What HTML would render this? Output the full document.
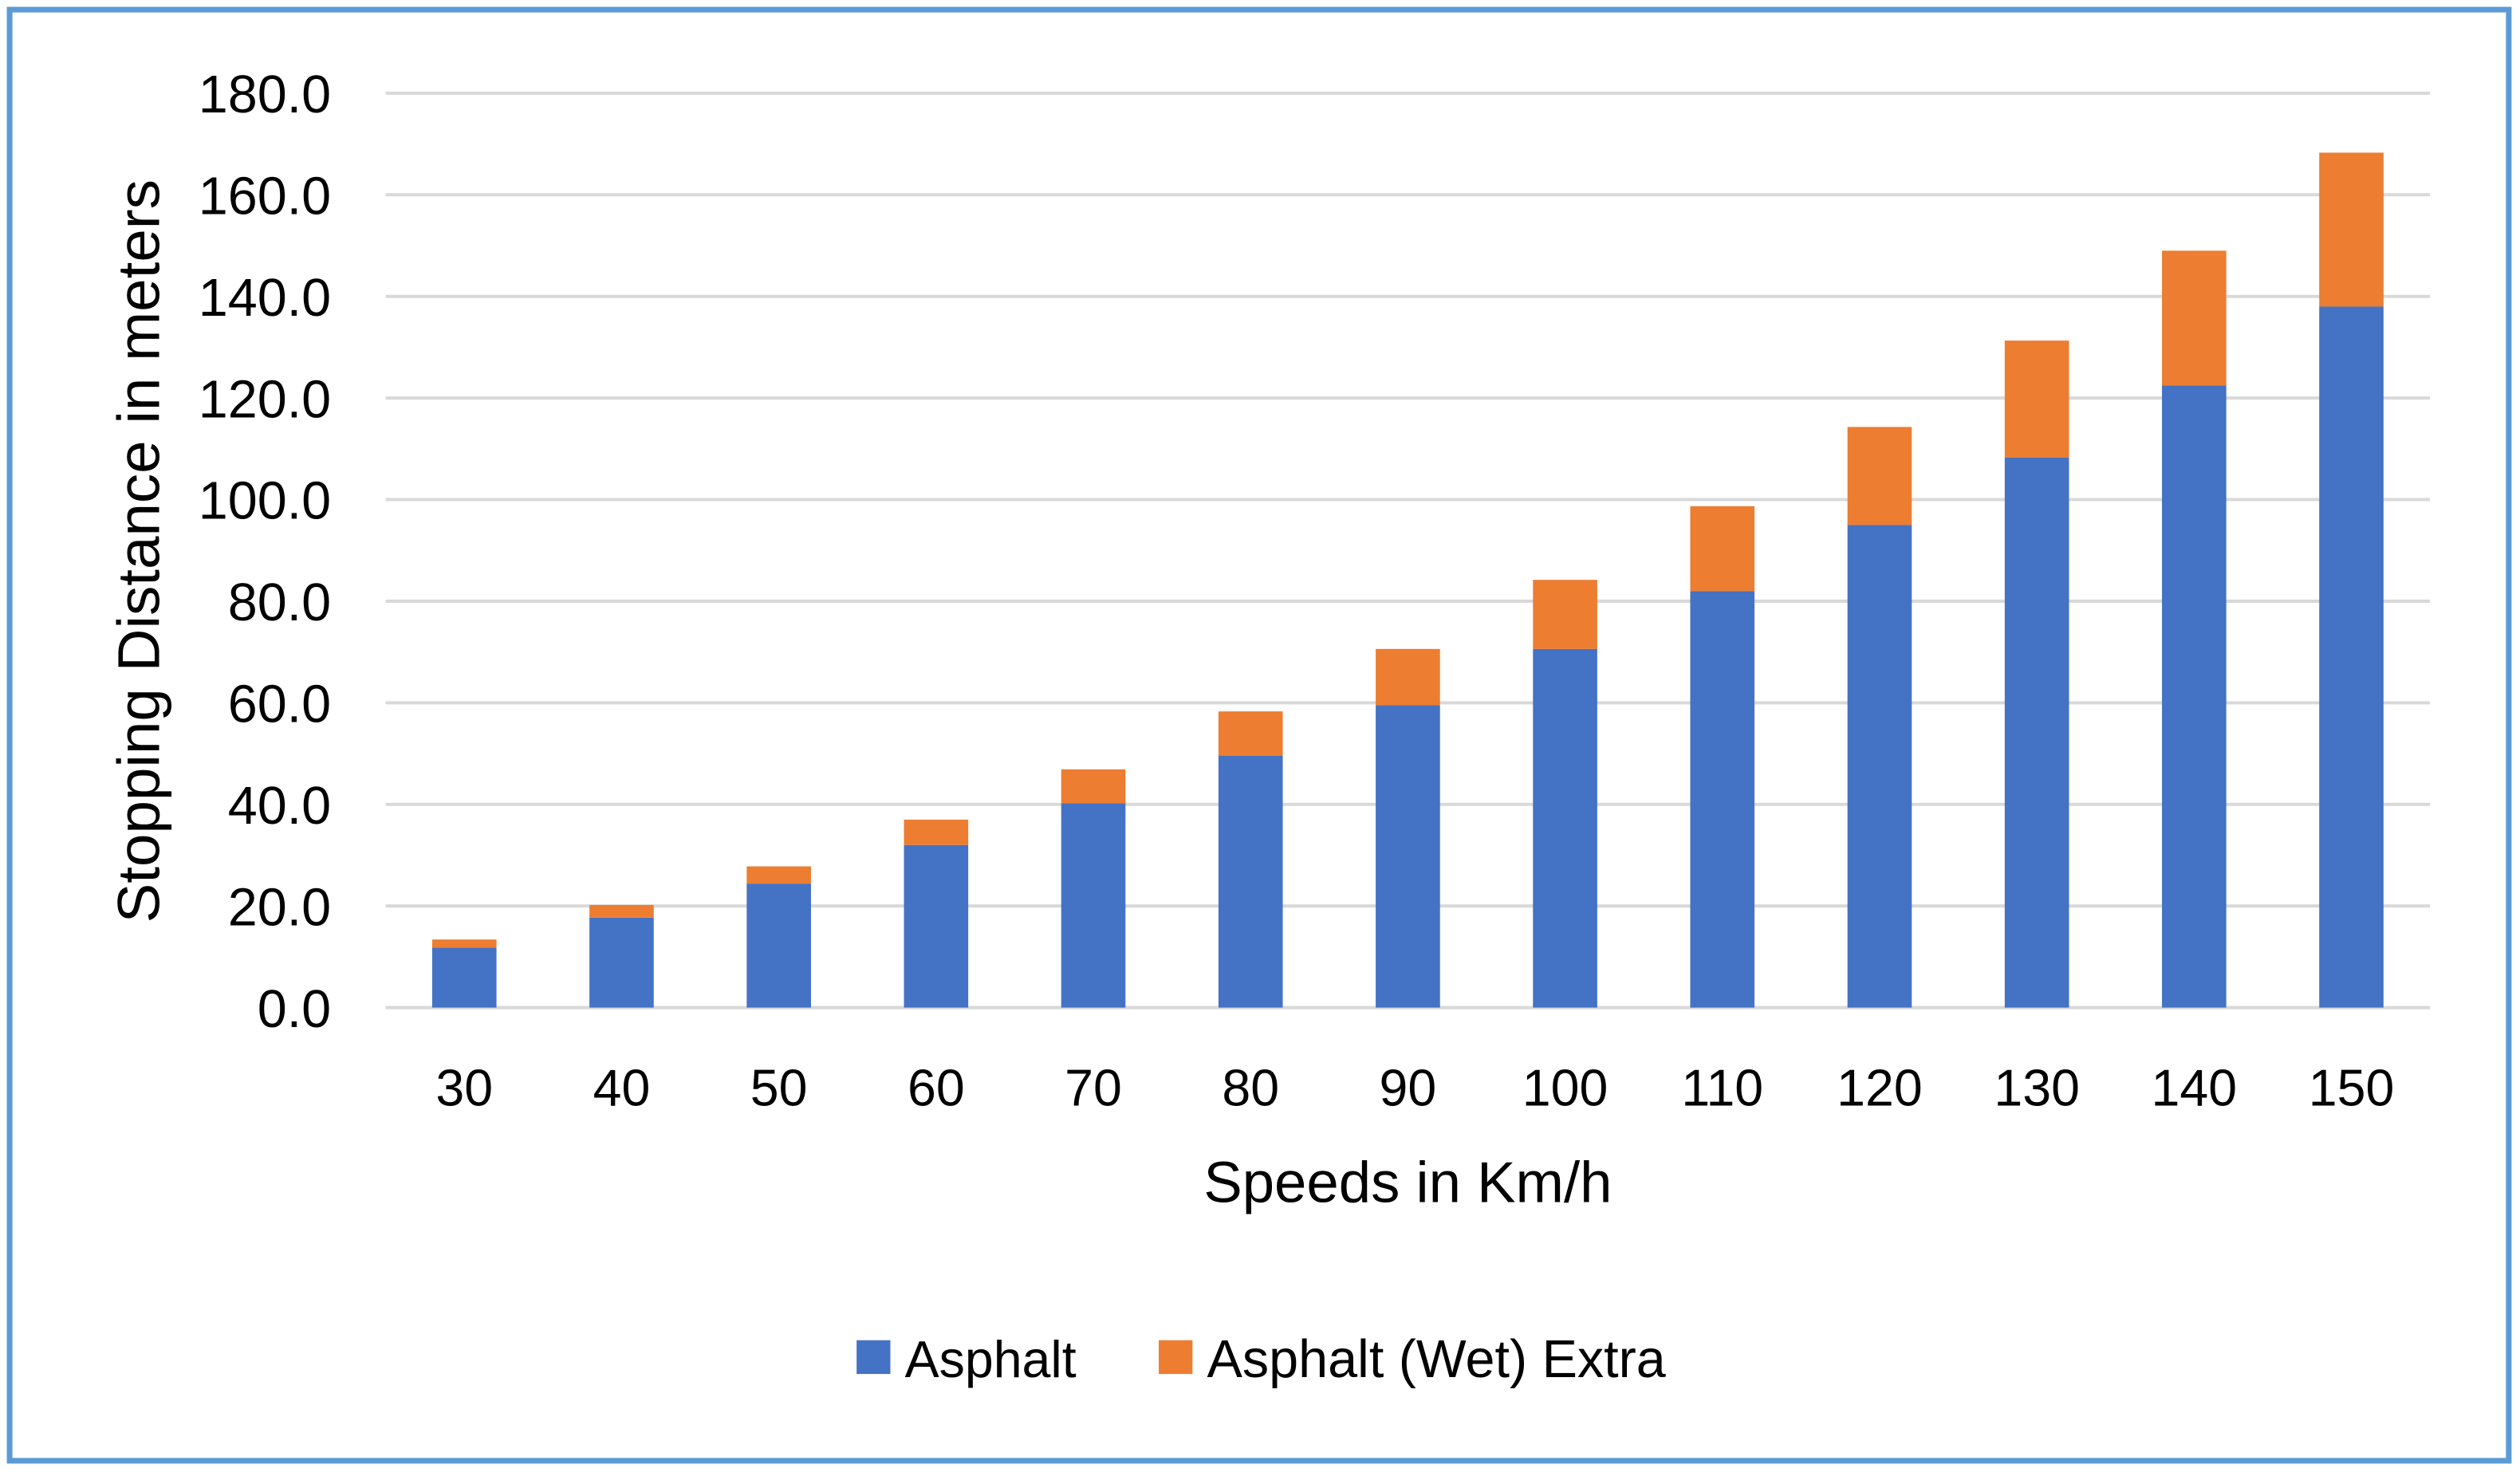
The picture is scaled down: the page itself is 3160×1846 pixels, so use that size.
<!DOCTYPE html>
<html><head><meta charset="utf-8"><style>
html,body{margin:0;padding:0;background:#fff;}
svg{display:block;}
text{font-family:"Liberation Sans",sans-serif;fill:#000;}
</style></head><body>
<svg id="chart" width="3160" height="1846" viewBox="0 0 1568 916" preserveAspectRatio="none" xmlns="http://www.w3.org/2000/svg">
<rect x="6" y="6" width="1555" height="903" fill="#fff" stroke="#5b9bd5" stroke-width="3.5"/>
<g id="grid"></g>
<g id="bars"></g>
<g id="labels"></g>
<text transform="translate(99,343) rotate(-90)" text-anchor="middle" font-size="37">Stopping Distance in meters</text>
<text x="876" y="748" text-anchor="middle" font-size="36">Speeds in Km/h</text>
<g>
<rect x="533" y="834" width="21" height="21" fill="#4472c4"/>
<text x="563" y="857" font-size="32">Asphalt</text>
<rect x="721" y="834" width="21" height="21" fill="#ed7d31"/>
<text x="751" y="857" font-size="33">Asphalt (Wet) Extra</text>
</g>
</svg>
<script>
const categories = ["30","40","50","60","70","80","90","100","110","120","130","140","150"];
const asphalt = [11.8,17.7,24.4,32,40.2,49.6,59.5,70.6,82,95,108.3,122.5,138];
const wetExtra = [1.6,2.5,3.4,5,6.7,8.7,11.1,13.6,16.7,19.3,23,26.5,30.3];
const yTicks = [0,20,40,60,80,100,120,140,160,180];
const yTickLabels = ["0.0","20.0","40.0","60.0","80.0","100.0","120.0","140.0","160.0","180.0"];

const NS="http://www.w3.org/2000/svg";
const x0=240,x1=1512,yBase=627,yTop=58,yMax=180;
const y=v=>yBase-(v/yMax)*(yBase-yTop);
const step=(x1-x0)/categories.length;
const xc=i=>x0+step*(i+0.5);
const bw=40;
function mk(tag,attrs,parent){const e=document.createElementNS(NS,tag);for(const k in attrs)e.setAttribute(k,attrs[k]);parent.appendChild(e);return e;}
const grid=document.getElementById('grid'),bars=document.getElementById('bars'),labels=document.getElementById('labels');
yTicks.forEach((t,i)=>{
  const l=mk('line',{x1:x0,x2:x1,y1:y(t),y2:y(t),stroke:'#d9d9d9','stroke-width':2},grid);
  
  
  const tx=mk('text',{x:206,y:y(t)+12,'text-anchor':'end','font-size':33},labels);
  tx.textContent=yTickLabels[i];
  
  
});
categories.forEach((c,i)=>{
  const a=mk('rect',{x:xc(i)-bw/2,y:y(asphalt[i]),width:bw,height:yBase-y(asphalt[i]),fill:'#4472c4'},bars);
  
  
  const top=asphalt[i]+wetExtra[i];
  const w=mk('rect',{x:xc(i)-bw/2,y:y(top),width:bw,height:y(asphalt[i])-y(top),fill:'#ed7d31'},bars);
  
  
  const tx=mk('text',{x:xc(i),y:688,'text-anchor':'middle','font-size':32},labels);
  tx.textContent=c;
  
  
});
const ax=mk('line',{x1:x0,x2:x1,y1:yBase,y2:yBase,stroke:'#d9d9d9','stroke-width':2},grid);


</script>
</body></html>
